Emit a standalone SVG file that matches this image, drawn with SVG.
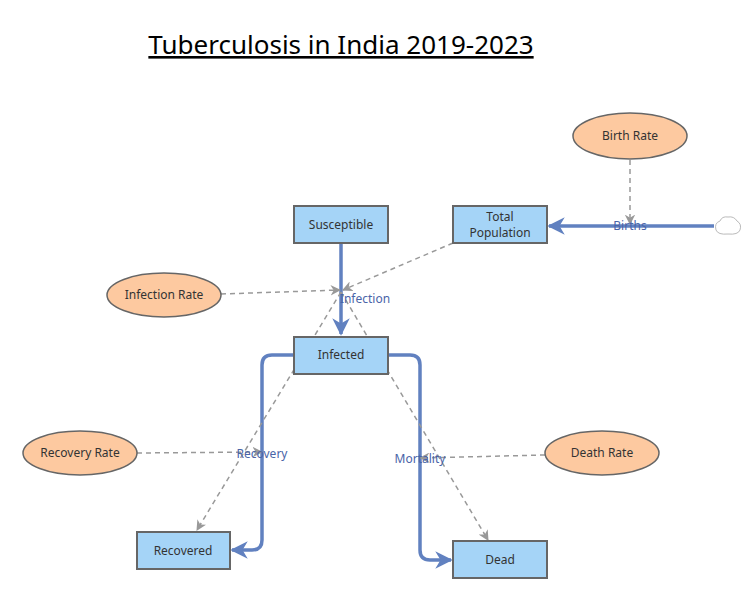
<svg xmlns="http://www.w3.org/2000/svg" width="748" height="600" viewBox="0 0 748 600">
<style>
text{font-family:"Comic Sans MS","Noto Sans","Liberation Sans",sans-serif;font-size:12px;fill:#333;text-anchor:middle}
.stock rect{fill:#a5d4f7;stroke:#666;stroke-width:2}
.var ellipse{fill:#fdc9a0;stroke:#666;stroke-width:1.5}
.flow{fill:none;stroke:#6181c0;stroke-width:3.5;stroke-linejoin:round}
.link{fill:none;stroke:#999;stroke-width:1.5;stroke-dasharray:5 4}
.fl{fill:#4a64a8}
</style>
<defs>
<marker id="fa" viewBox="0 0 10 10" refX="9" refY="5" markerWidth="5" markerHeight="5" orient="auto" markerUnits="strokeWidth"><path d="M0,0L10,5L0,10L3,5Z" fill="#6181c0"/></marker>
<marker id="la" viewBox="0 0 10 10" refX="9" refY="5" markerWidth="7" markerHeight="7" orient="auto" markerUnits="strokeWidth"><path d="M0,0L10,5L0,10L3,5Z" fill="#999"/></marker>
</defs>
<rect width="748" height="600" fill="#fff"/>
<text x="341" y="54" style="font-size:26px;fill:#000;text-decoration:underline">Tuberculosis in India 2019-2023</text>
<g id="connectors">
<path class="flow" d="M714,226H549" marker-end="url(#fa)"/>
<path class="flow" d="M341,243V334" marker-end="url(#fa)"/>
<path class="flow" d="M294,355H272Q262,355 262,365V540Q262,550 252,550H232" marker-end="url(#fa)"/>
<path class="flow" d="M388,355H410Q420,355 420,365V550Q420,560 430,560H451" marker-end="url(#fa)"/>
<path class="link" d="M630,160V224" marker-end="url(#la)"/>
<path class="link" d="M221,294L340,290" marker-end="url(#la)"/>
<path class="link" d="M453,243L343,290" marker-end="url(#la)"/>
<path class="link" d="M341,292L197,530" marker-end="url(#la)"/>
<path class="link" d="M341,292L488,540" marker-end="url(#la)"/>
<path class="link" d="M137,453L262,452" marker-end="url(#la)"/>
<path class="link" d="M545,455L420,458" marker-end="url(#la)"/>
<g transform="translate(728,226)"><path d="M-12,4Q-14,-3 -8,-5Q-6,-10 0,-9Q6,-10 9,-5Q14,-2 12,4Q10,9 0,8Q-10,9 -12,4Z" fill="#fff" stroke="#bbb"/></g>
<text class="fl" x="630" y="230" style="fill:#4a64a8">Births</text>
<text x="365" y="303" style="fill:#4a64a8">Infection</text>
<text x="262" y="458" style="fill:#4a64a8">Recovery</text>
<text x="420" y="463" style="fill:#4a64a8">Mortality</text>
</g>
<g id="susceptible" class="stock"><rect x="294" y="206" width="94" height="37"/><text x="341" y="229">Susceptible</text></g>
<g id="total" class="stock"><rect x="453" y="206" width="94" height="37"/><text x="500" y="221">Total</text><text x="500" y="237">Population</text></g>
<g id="infected" class="stock"><rect x="294" y="337" width="94" height="37"/><text x="341" y="359">Infected</text></g>
<g id="recovered" class="stock"><rect x="137" y="532" width="93" height="37"/><text x="183" y="555">Recovered</text></g>
<g id="dead" class="stock"><rect x="453" y="541" width="94" height="37"/><text x="500" y="564">Dead</text></g>
<g id="birthrate" class="var"><ellipse cx="630" cy="136" rx="57" ry="23"/><text x="630" y="140">Birth Rate</text></g>
<g id="infectionrate" class="var"><ellipse cx="164" cy="295" rx="57" ry="22"/><text x="164" y="299">Infection Rate</text></g>
<g id="recoveryrate" class="var"><ellipse cx="80" cy="453" rx="57" ry="22"/><text x="80" y="457">Recovery Rate</text></g>
<g id="deathrate" class="var"><ellipse cx="602" cy="453" rx="57" ry="22"/><text x="602" y="457">Death Rate</text></g>
</svg>
